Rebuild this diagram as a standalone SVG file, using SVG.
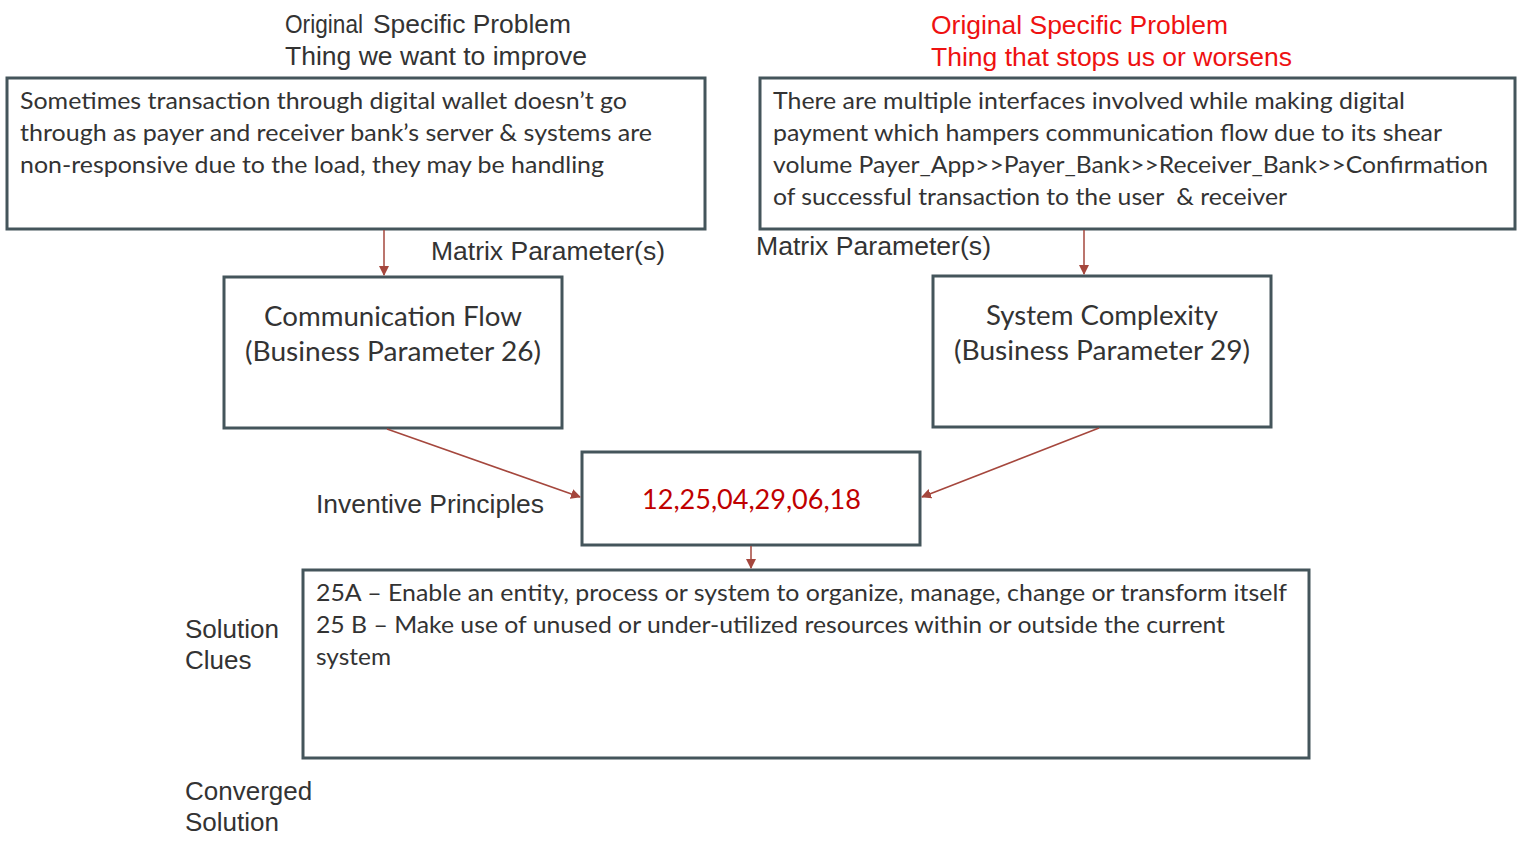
<svg xmlns="http://www.w3.org/2000/svg" width="1530" height="852" viewBox="0 0 1530 852">
<defs>
<marker id="ah" viewBox="0 0 10 10" refX="9" refY="5" markerWidth="10" markerHeight="10" markerUnits="userSpaceOnUse" orient="auto">
<path d="M0,0 L10,5 L0,10 z" fill="#a5473d"/>
</marker>
<style>
.box{fill:#fff;stroke:#44555b;stroke-width:3}
.body{font-family:Lato,"Open Sans","Liberation Sans",sans-serif;font-size:24px;fill:#333}
.big{font-family:Lato,"Open Sans","Liberation Sans",sans-serif;font-size:27px;fill:#333}
.ar{font-family:"Liberation Sans",Arial,sans-serif;font-size:26px;fill:#333}
.red{fill:#ee1111}
.num{font-family:Lato,"Open Sans","Liberation Sans",sans-serif;font-size:27px;fill:#c00000}
.conn{stroke:#a5473d;stroke-width:1.5;fill:none;marker-end:url(#ah)}
</style>
</defs>
<rect width="1530" height="852" fill="#fff"/>

<g id="labels">
<text x="285" y="33" class="ar" font-size="21" textLength="78" lengthAdjust="spacingAndGlyphs">Original</text>
<text x="373" y="33" class="ar" textLength="198" lengthAdjust="spacingAndGlyphs">Specific Problem</text>
<text x="285" y="65" class="ar" textLength="302" lengthAdjust="spacingAndGlyphs">Thing we want to improve</text>
<text x="931" y="34" class="ar red" textLength="297" lengthAdjust="spacingAndGlyphs">Original Specific Problem</text>
<text x="931" y="66" class="ar red" textLength="361" lengthAdjust="spacingAndGlyphs">Thing that stops us or worsens</text>
<text x="431" y="260" class="ar" textLength="234" lengthAdjust="spacingAndGlyphs">Matrix Parameter(s)</text>
<text x="756" y="255" class="ar" textLength="235" lengthAdjust="spacingAndGlyphs">Matrix Parameter(s)</text>
<text x="316" y="513" class="ar" textLength="228" lengthAdjust="spacingAndGlyphs">Inventive Principles</text>
<text x="185" y="638" class="ar">Solution</text>
<text x="185" y="669" class="ar">Clues</text>
<text x="185" y="800" class="ar">Converged</text>
<text x="185" y="831" class="ar">Solution</text>
</g>

<g id="problem-left">
<rect class="box" x="7" y="78" width="698" height="151"/>
<text class="body" x="20" y="109" textLength="607" lengthAdjust="spacingAndGlyphs">Sometimes transaction through digital wallet doesn’t go</text>
<text class="body" x="20" y="141" textLength="632" lengthAdjust="spacingAndGlyphs">through as payer and receiver bank’s server &amp; systems are</text>
<text class="body" x="20" y="173" textLength="584" lengthAdjust="spacingAndGlyphs">non-responsive due to the load, they may be handling</text>
</g>

<g id="problem-right">
<rect class="box" x="760" y="78" width="755" height="151"/>
<text class="body" x="773" y="109" textLength="632" lengthAdjust="spacingAndGlyphs">There are multiple interfaces involved while making digital</text>
<text class="body" x="773" y="141" textLength="669" lengthAdjust="spacingAndGlyphs">payment which hampers communication flow due to its shear</text>
<text class="body" x="773" y="173" textLength="715" lengthAdjust="spacingAndGlyphs">volume Payer_App&gt;&gt;Payer_Bank&gt;&gt;Receiver_Bank&gt;&gt;Confirmation</text>
<text class="body" x="773" y="205" textLength="514" lengthAdjust="spacingAndGlyphs" xml:space="preserve">of successful transaction to the user  &amp; receiver</text>
</g>

<g id="param-left">
<rect class="box" x="224" y="277" width="338" height="151"/>
<text class="big" x="264" y="326" textLength="258" lengthAdjust="spacingAndGlyphs">Communication Flow</text>
<text class="big" x="245" y="361" textLength="296" lengthAdjust="spacingAndGlyphs">(Business Parameter 26)</text>
</g>

<g id="param-right">
<rect class="box" x="933" y="276" width="338" height="151"/>
<text class="big" x="986" y="325" textLength="232" lengthAdjust="spacingAndGlyphs">System Complexity</text>
<text class="big" x="954" y="360" textLength="296" lengthAdjust="spacingAndGlyphs">(Business Parameter 29)</text>
</g>

<g id="principles">
<rect class="box" x="582" y="452" width="338" height="93"/>
<text class="num" x="642" y="509" textLength="219" lengthAdjust="spacingAndGlyphs">12,25,04,29,06,18</text>
</g>

<g id="clues">
<rect class="box" x="303" y="570" width="1006" height="188"/>
<text class="body" x="316" y="601" textLength="971" lengthAdjust="spacingAndGlyphs">25A – Enable an entity, process or system to organize, manage, change or transform itself</text>
<text class="body" x="316" y="633" textLength="909" lengthAdjust="spacingAndGlyphs">25 B – Make use of unused or under-utilized resources within or outside the current</text>
<text class="body" x="316" y="665" textLength="75" lengthAdjust="spacingAndGlyphs">system</text>
</g>

<g id="connectors">
<line class="conn" x1="384" y1="230" x2="384" y2="275"/>
<line class="conn" x1="1084" y1="230" x2="1084" y2="274"/>
<line class="conn" x1="387" y1="429" x2="580" y2="497"/>
<line class="conn" x1="1099" y1="428" x2="922" y2="497"/>
<line class="conn" x1="751" y1="546" x2="751" y2="568"/>
</g>
</svg>
